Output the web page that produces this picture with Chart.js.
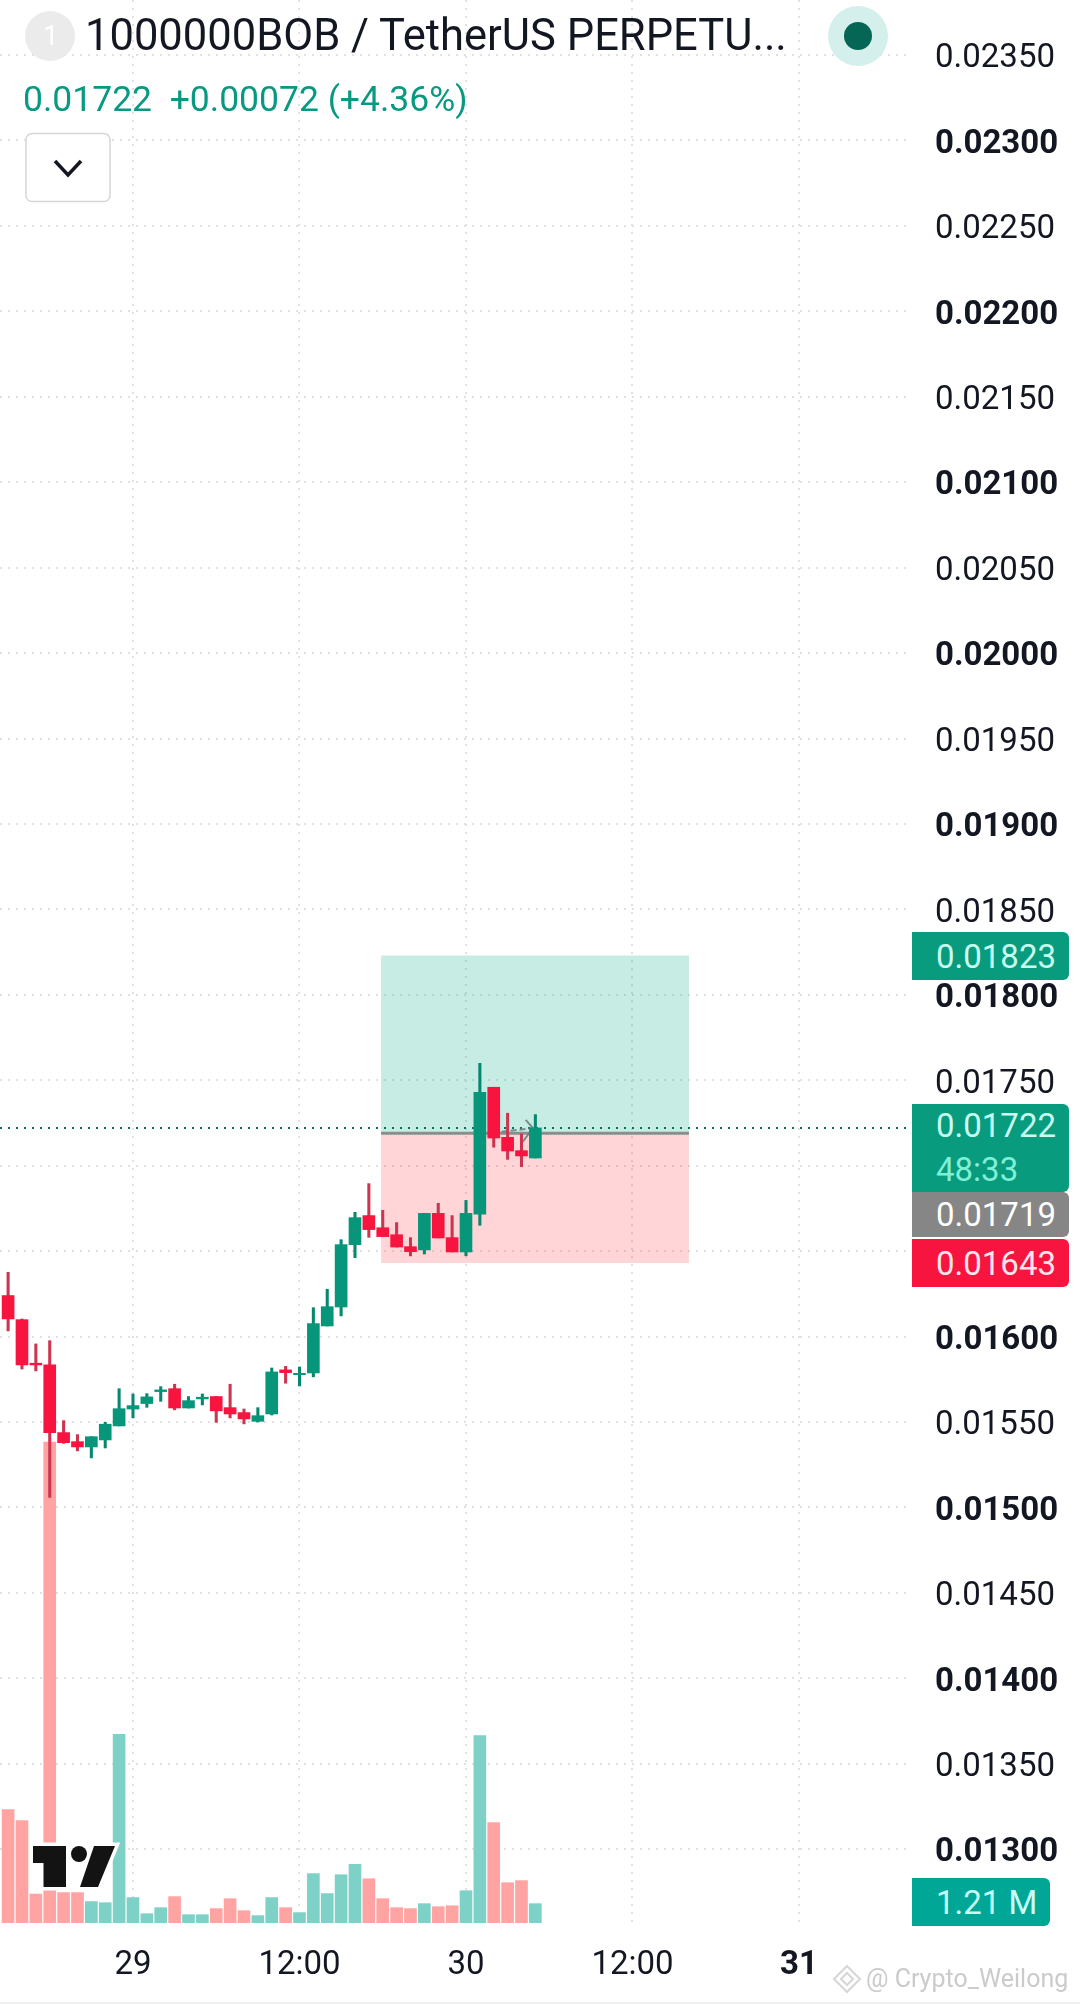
<!DOCTYPE html>
<html><head><meta charset="utf-8">
<style>
html,body{margin:0;padding:0;background:#fff;width:1080px;height:2004px;overflow:hidden;font-family:Roboto,sans-serif}
#wrap{position:relative;width:1080px;height:2004px}
canvas{position:absolute;left:0;top:0}
.a{position:absolute;white-space:nowrap}
.tag{position:absolute;left:912px;width:157px;border-radius:0 6px 6px 0;font-size:33px;line-height:50px;padding-left:24px;box-sizing:border-box}
</style></head><body>
<div id="wrap">
<canvas id="c" width="1080" height="2004"></canvas>
<svg class="a" style="left:0;top:0" width="1080" height="240">
<circle cx="50" cy="36" r="25" fill="#ebebeb"/>
<circle cx="858" cy="36" r="30" fill="#d5f0ec"/>
<circle cx="858" cy="36" r="14" fill="#056656"/>
<rect x="26" y="133.5" width="84" height="68" rx="6" fill="#fff" stroke="#d6d6d6" stroke-width="1.5"/>
<path d="M55 161 L68 175 L81 161" fill="none" stroke="#131722" stroke-width="3.5"/>
</svg>
<div class="a" style="left:43px;top:18px;font-size:28px;line-height:36px;color:#fff">1</div>
<div class="a" id="title" style="left:85px;top:11px;font-size:43.5px;line-height:50px;color:#131722">1000000BOB / TetherUS PERPETU...</div>
<div class="a" style="left:23px;top:78px;font-size:35.5px;line-height:42px;color:#089981;white-space:pre">0.01722  +0.00072 (+4.36%)</div>
<div class="tag" style="top:932px;height:48px;background:#089b7d;color:#c8fff0">0.01823</div>
<div class="tag" style="top:1104px;height:88px;background:#089b7d;color:#c8fff0;line-height:44px">0.01722<br><span style="color:#7ff0d8">48:33</span></div>
<div class="tag" style="top:1192px;height:45px;background:#868686;color:#fff;line-height:46px">0.01719</div>
<div class="tag" style="top:1239px;height:48px;background:#f7143f;color:#ffe6ea">0.01643</div>
<div class="tag" style="top:1878px;height:48px;width:138px;background:#00a696;color:#c6fff5">1.21 M</div>
<svg class="a" style="left:0;top:1830px" width="140" height="70">
<g fill="#131313" stroke="#fff" stroke-width="7" paint-order="stroke" stroke-linejoin="miter">
<path d="M33 16 H66 V57 H43.5 V33 H33 Z"/>
<circle cx="79" cy="24" r="8"/>
<path d="M94 16 H115 L98 57 H80 Z"/>
</g></svg>
<svg class="a" style="left:832px;top:1964px" width="32" height="32">
<g fill="none" stroke="#d6d6d6" stroke-width="2"><path d="M15 2 L28 15 L15 28 L2 15 Z"/><path d="M15 9 L21 15 L15 21 L9 15 Z"/></g></svg>
<div class="a" style="left:866px;top:1963px;font-size:25px;line-height:32px;color:#cbcbcb">@ Crypto_Weilong</div>
<div class="a" style="left:0;top:2002px;width:1080px;height:2px;background:#f0f0f0"></div>
</div>
<script src="https://cdn.jsdelivr.net/npm/chart.js@4/dist/chart.umd.js"></script>
<script>
const opens=[0.016240,0.016099,0.015844,0.015834,0.015438,0.015385,0.015354,0.015395,0.015477,0.015576,0.015608,0.015678,0.015695,0.015582,0.015635,0.015649,0.015584,0.015555,0.015504,0.015547,0.015805,0.015777,0.015787,0.016062,0.016173,0.016538,0.016708,0.016637,0.016596,0.016526,0.016507,0.016721,0.016579,0.016495,0.016717,0.017459,0.017166,0.017088,0.017045];
const highs=[0.016376,0.016103,0.015957,0.015976,0.015508,0.015426,0.015414,0.015498,0.015695,0.015664,0.015666,0.015707,0.015721,0.015649,0.015664,0.015649,0.015721,0.015576,0.015584,0.015816,0.015826,0.015822,0.016169,0.016277,0.016567,0.016727,0.016895,0.016739,0.016667,0.016579,0.016721,0.016780,0.016708,0.016797,0.017599,0.017459,0.017307,0.017186,0.017299];
const lows=[0.016033,0.015810,0.015799,0.015059,0.015375,0.015331,0.015290,0.015348,0.015477,0.015524,0.015586,0.015621,0.015571,0.015582,0.015600,0.015498,0.015524,0.015489,0.015500,0.015541,0.015727,0.015711,0.015764,0.016062,0.016121,0.016462,0.016581,0.016585,0.016524,0.016472,0.016483,0.016577,0.016495,0.016473,0.016651,0.017108,0.017037,0.016994,0.017045];
const closes=[0.016103,0.015834,0.015834,0.015438,0.015379,0.015354,0.015414,0.015487,0.015578,0.015596,0.015647,0.015688,0.015582,0.015625,0.015645,0.015565,0.015547,0.015518,0.015537,0.015793,0.015789,0.015785,0.016076,0.016175,0.016538,0.016696,0.016626,0.016585,0.016524,0.016497,0.016721,0.016577,0.016495,0.016721,0.017429,0.017162,0.017086,0.017057,0.017221];
const volumes=[7.09,6.40,1.81,30.08,1.90,1.90,1.34,1.27,11.81,1.59,0.58,0.96,1.65,0.52,0.52,0.90,1.52,0.77,0.46,1.59,0.96,0.65,3.09,1.84,3.02,3.67,2.77,1.52,0.96,0.90,1.21,1.02,1.08,2.02,11.72,6.28,2.52,2.65,1.21];
const xTickValues=[9,21,33,45,57];
const xTickLabels=["29","12:00","30","12:00","31"];
const yTickLabels=["0.02350","0.02300","0.02250","0.02200","0.02150","0.02100","0.02050","0.02000","0.01950","0.01900","0.01850","0.01800","0.01750","0.01700","0.01650","0.01600","0.01550","0.01500","0.01450","0.01400","0.01350","0.01300"];
const targetPrice=0.01823, entryPrice=0.01719, stopPrice=0.01643, lastPrice=0.01722;
const boxRange=[26.88,49.07];
const arrowShaft=[[35.57,0.017199],[37.83,0.01722]];
const arrowHead=[[37.3,0.017268],[37.83,0.01722],[37.1,0.017141]];

const RED='#f7143f',GREEN='#08967b',RED_W='#cc3550',GREEN_W='#08876f',RED_V='#ffa3a3',GREEN_V='#7dd1c7';
const isUp=opens.map((o,i)=>closes[i]>=o);
const idx=opens.map((_,i)=>i);
const priceFont=33;
const line=(pts,o)=>Object.assign({type:'line',data:pts.map(p=>({x:p[0],y:p[1]})),pointRadius:0,borderWidth:0,fill:false,xAxisID:'x',yAxisID:'y',tension:0},o);

new Chart(document.getElementById('c'),{
 type:'bar',
 data:{datasets:[
  {label:'body',order:1,grouped:false,barThickness:12,yAxisID:'y',xAxisID:'x',
   data:idx.map(i=>({x:i,y:[Math.min(opens[i],closes[i]),Math.max(opens[i],closes[i])]})),
   backgroundColor:isUp.map(u=>u?GREEN:RED)},
  {label:'wick',order:2,grouped:false,barThickness:2.4,yAxisID:'y',xAxisID:'x',
   data:idx.map(i=>({x:i,y:[lows[i],highs[i]]})),
   backgroundColor:isUp.map(u=>u?GREEN_W:RED_W)},
  line(arrowShaft,{order:3,borderWidth:2,borderColor:'rgba(105,125,125,.85)',borderDash:[6,3]}),
  line(arrowHead,{order:3,borderWidth:2,borderColor:'rgba(105,125,125,.85)'}),
  line([[-0.584,lastPrice],[65,lastPrice]],{order:3.5,borderWidth:2,borderColor:'#0b6f60',borderDash:[2,6]}),
  line([[boxRange[0],entryPrice],[boxRange[1],entryPrice]],{order:4,borderWidth:3,borderColor:'#8a8f8e'}),
  line([[boxRange[0],targetPrice],[boxRange[1],targetPrice]],{order:5,fill:{value:entryPrice},backgroundColor:'rgba(8,175,140,.23)'}),
  line([[boxRange[0],stopPrice],[boxRange[1],stopPrice]],{order:5,fill:{value:entryPrice},backgroundColor:'rgba(255,30,50,.19)'}),
  {label:'volume',order:7,grouped:false,barThickness:12,yAxisID:'v',xAxisID:'x',
   data:idx.map(i=>({x:i,y:volumes[i]})),
   backgroundColor:isUp.map(u=>u?GREEN_V:RED_V)}
 ]},
 options:{
  responsive:false,animation:false,devicePixelRatio:1,
  layout:{padding:0},
  plugins:{legend:{display:false},tooltip:{enabled:false}},
  scales:{
   x:{type:'linear',position:'bottom',min:-0.584,max:65,offset:false,
    grid:{color:'#dfe1e3',lineWidth:2,drawTicks:false,offset:false},
    border:{display:false,dash:[2,6]},
    afterBuildTicks:a=>{a.ticks=xTickValues.map(v=>({value:v}));},
    afterFit:a=>{a.height=81;a.paddingLeft=0;a.paddingRight=0;a.paddingTop=0;a.paddingBottom=0;},
    ticks:{autoSkip:false,maxRotation:0,padding:23,color:'#131722',
     callback:v=>xTickLabels[xTickValues.indexOf(v)],
     font:c=>({family:'Roboto',size:priceFont,weight:(c.tick&&xTickLabels[xTickValues.indexOf(c.tick.value)]==='31')?'bold':'normal'})}
   },
   y:{type:'linear',position:'right',min:0.012568,max:0.023822,
    grid:{color:'#dfe1e3',lineWidth:2,drawTicks:false},
    border:{display:false,dash:[2,6]},
    afterBuildTicks:a=>{a.ticks=yTickLabels.map(s=>({value:parseFloat(s)}));},
    afterFit:a=>{a.width=170;a.paddingLeft=0;a.paddingRight=0;a.paddingTop=0;a.paddingBottom=0;},
    ticks:{autoSkip:false,padding:25,labelOffset:4,color:'#131722',
     callback:v=>v.toFixed(5),
     font:c=>({family:'Roboto',size:priceFont,weight:(c.tick&&c.tick.value.toFixed(5).endsWith('00'))?'bold':'normal'})}
   },
   v:{type:'linear',display:false,min:0,max:120.3}
  }
 }
});
</script>
</body></html>
